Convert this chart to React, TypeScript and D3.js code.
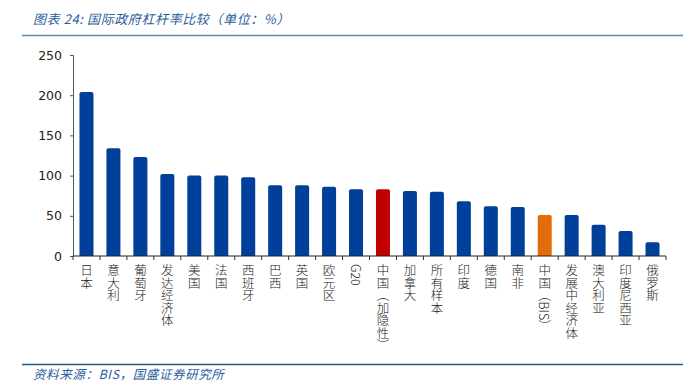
import React, { useRef, useEffect } from 'react';
import { select, scaleBand, scaleLinear, axisLeft } from 'd3';

// categories and values (government leverage, %)
const countries = [
  '日本', '意大利', '葡萄牙', '发达经济体', '美国', '法国', '西班牙', '巴西', '英国', '欧元区', 'G20',
  '中国（加隐性）', '加拿大', '所有样本', '印度', '德国', '南非', '中国（BIS）', '发展中经济体', '澳大利亚', '印度尼西亚', '俄罗斯',
];
const leverage = [
  204, 134, 123, 102, 100, 100, 98, 88, 88, 86, 83,
  83, 81, 80, 68, 62, 61, 51, 51, 39, 31, 17,
];
const yTicks = [0, 50, 100, 150, 200, 250];

const BLUE = '#00409A';
const RED = '#C00000';
const ORANGE = '#E36C0A';

function barColor(name: string) {
  if (name === '中国（加隐性）') return RED;
  if (name === '中国（BIS）') return ORANGE;
  return BLUE;
}

function App() {
  const svgRef = useRef<SVGSVGElement>(null);

  useEffect(() => {
    const width = 689;
    const height = 389;
    const margin = { left: 73, right: 23, top: 55, bottom: 133 };
    const svg = select(svgRef.current);
    svg.selectAll('*').remove();

    const xScale = scaleBand()
      .domain(countries)
      .range([margin.left, width - margin.right])
      .paddingInner(0.48)
      .paddingOuter(0.24);

    const yScale = scaleLinear()
      .domain([0, 250])
      .range([height - margin.bottom, margin.top]);

    // title + rule
    svg
      .append('text')
      .attr('x', 33)
      .attr('y', 24)
      .attr('fill', '#2B5C9E')
      .attr('font-style', 'italic')
      .attr('font-size', 13)
      .attr('letter-spacing', 0.6)
      .attr('font-family', '"Noto Sans CJK SC", sans-serif')
      .text('图表 24:  国际政府杠杆率比较（单位：%）');
    svg
      .append('line')
      .attr('x1', 22)
      .attr('x2', 683)
      .attr('y1', 35.5)
      .attr('y2', 35.5)
      .attr('stroke', '#5B87B5')
      .attr('stroke-width', 1.5);

    // y axis
    const yAxis = svg
      .append('g')
      .attr('transform', `translate(${margin.left},0)`)
      .call(axisLeft(yScale).tickValues(yTicks).tickSize(3).tickPadding(8));
    yAxis.select('.domain').attr('stroke', '#555');
    yAxis.selectAll('.tick line').attr('stroke', '#555');
    yAxis
      .selectAll('.tick text')
      .attr('fill', '#222')
      .attr('font-size', 12.5)
      .attr('font-family', '"DejaVu Sans", sans-serif');

    // bars
    const bw = xScale.bandwidth();
    svg
      .selectAll('.bar')
      .data(countries)
      .join('path')
      .attr('class', 'bar')
      .attr('fill', (d) => barColor(d))
      .attr('d', (d, i) => {
        const x0 = xScale(d) as number;
        const y0 = yScale(leverage[i]);
        const y1 = yScale(0);
        const r = 2;
        return `M${x0},${y1}V${y0 + r}Q${x0},${y0} ${x0 + r},${y0}H${x0 + bw - r}Q${x0 + bw},${y0} ${x0 + bw},${y0 + r}V${y1}Z`;
      });

    // x axis baseline + tick marks between categories
    const base = yScale(0);
    svg
      .append('line')
      .attr('x1', margin.left)
      .attr('x2', width - margin.right)
      .attr('y1', base)
      .attr('y2', base)
      .attr('stroke', '#222')
      .attr('stroke-width', 1.2);
    const step = xScale.step();
    const bounds = countries.map((_, i) => margin.left + i * step).concat([width - margin.right]);
    svg
      .selectAll('.xtick')
      .data(bounds)
      .join('line')
      .attr('class', 'xtick')
      .attr('x1', (d) => d)
      .attr('x2', (d) => d)
      .attr('y1', base)
      .attr('y2', base + 4)
      .attr('stroke', '#333');

    // vertical category labels
    svg
      .selectAll('.label')
      .data(countries)
      .join('text')
      .attr('class', 'label')
      .attr('x', (d) => (xScale(d) as number) + bw / 2)
      .attr('y', base + 8)
      .attr('writing-mode', 'vertical-rl')
      .attr('fill', '#222')
      .attr('font-size', 12.5)
      .attr('font-weight', 300)
      .attr('font-family', '"Noto Sans CJK SC", sans-serif')
      .text((d) => d);

    // source rule + note
    svg
      .append('line')
      .attr('x1', 22)
      .attr('x2', 683)
      .attr('y1', 364.5)
      .attr('y2', 364.5)
      .attr('stroke', '#1F5A8C')
      .attr('stroke-width', 1.5);
    svg
      .append('text')
      .attr('x', 33)
      .attr('y', 379)
      .attr('fill', '#2B5C9E')
      .attr('font-style', 'italic')
      .attr('font-size', 12.5)
      .attr('letter-spacing', 0.6)
      .attr('font-family', '"Noto Sans CJK SC", sans-serif')
      .text('资料来源：BIS，国盛证券研究所');
  }, []);

  return (
    <svg
      ref={svgRef}
      width={689}
      height={389}
      style={{ position: 'absolute', left: 0, top: 0, background: '#fff' }}
    />
  );
}

export default App;
